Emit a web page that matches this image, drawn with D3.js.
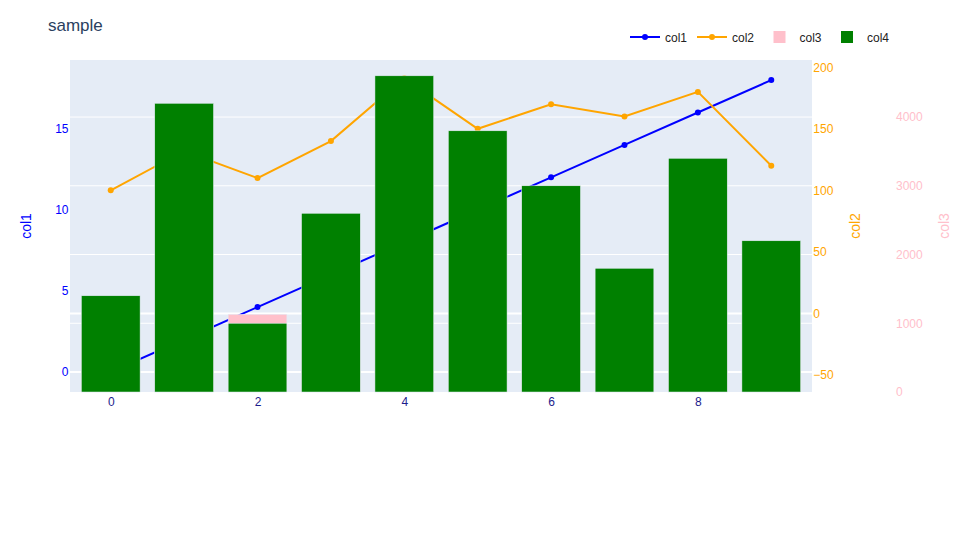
<!DOCTYPE html>
<html>
<head>
<meta charset="utf-8">
<script src="https://cdn.jsdelivr.net/npm/d3@7"></script>
<style>
    body { margin: 0; background: #fff; }
    svg { display: block; font-family: "Liberation Sans", Arial, sans-serif; }
</style>
</head>
<body>
<div id="chart"></div>
<script>
// values
const categories = [0, 1, 2, 3, 4, 5, 6, 7, 8, 9];
const col1 = [0, 2, 4, 6, 8, 10, 12, 14, 16, 18];
const col2 = [100, 132, 110, 140, 191, 150, 170, 160, 180, 120];
// col3 is mostly hidden behind col4, only x=2 shows
const col3 = [900, 1100, 1130, 1000, 1200, 1050, 950, 1150, 1000, 1100];
const col4 = [1400, 4200, 1000, 2600, 4600, 3800, 3000, 1800, 3400, 2200];

const xTicks = [0, 2, 4, 6, 8];
const col1Ticks = [0, 5, 10, 15];
const col2Ticks = [-50, 0, 50, 100, 150, 200];
const col3Ticks = [0, 1000, 2000, 3000, 4000];
const seriesNames = ['col1', 'col2', 'col3', 'col4'];

const CONFIG = {
    WIDTH: 960,
    HEIGHT: 540,
    PLOT: { left: 70, right: 812, top: 60, bottom: 392 },
    X_RANGE: [-0.555, 9.555],
    Y1_RANGE: [-1.24, 19.24],
    Y2_RANGE: [-63.8, 205.9],
    Y3_RANGE: [0, 4830],
    BAR_WIDTH: 0.8,
    COLOURS: {
        BG: '#e5ecf6',
        GRID: '#ffffff',
        COL1: 'blue',
        COL2: 'orange',
        COL3: 'pink',
        COL4: 'green',
        TITLE: '#2a3f5f',
        LEGEND: '#222',
        XTICK: '#1c1c8c'
    }
};

class Chart {
    constructor(parent) {
        this.ROOT = d3.select(parent).append('svg')
            .attr('width', CONFIG.WIDTH)
            .attr('height', CONFIG.HEIGHT)
            .attr('viewBox', [0, 0, CONFIG.WIDTH, CONFIG.HEIGHT]);
        this.createScales();
    }

    createScales() {
        const P = CONFIG.PLOT;
        this.x = d3.scaleLinear().domain(CONFIG.X_RANGE).range([P.left, P.right]);
        this.y1 = d3.scaleLinear().domain(CONFIG.Y1_RANGE).range([P.bottom, P.top]);
        this.y2 = d3.scaleLinear().domain(CONFIG.Y2_RANGE).range([P.bottom, P.top]);
        this.y3 = d3.scaleLinear().domain(CONFIG.Y3_RANGE).range([P.bottom, P.top]);
    }

    draw() {
        const P = CONFIG.PLOT;
        const C = CONFIG.COLOURS;

        this.ROOT.append('rect')
            .attr('x', P.left)
            .attr('y', P.top)
            .attr('width', P.right - P.left)
            .attr('height', P.bottom - P.top)
            .attr('fill', C.BG);

        // gridlines come from the col3 axis, plus zero lines of col1 / col2
        this.ROOT.append('g')
            .selectAll('line')
            .data(col3Ticks.filter(d => d > 0))
            .join('line')
            .attr('x1', P.left).attr('x2', P.right)
            .attr('y1', d => this.y3(d)).attr('y2', d => this.y3(d))
            .attr('stroke', C.GRID)
            .attr('stroke-width', 1);

        this.ROOT.append('g')
            .selectAll('line')
            .data([this.y1(0), this.y2(0)])
            .join('line')
            .attr('x1', P.left).attr('x2', P.right)
            .attr('y1', d => d).attr('y2', d => d)
            .attr('stroke', C.GRID)
            .attr('stroke-width', 2);

        this.drawLine(col1, this.y1, C.COL1);
        this.drawLine(col2, this.y2, C.COL2);
        this.drawBars(col3, C.COL3);
        this.drawBars(col4, C.COL4);

        this.drawAxes();
        this.drawLegend();

        this.ROOT.append('text')
            .attr('x', 48)
            .attr('y', 31)
            .attr('font-size', 17)
            .attr('fill', C.TITLE)
            .text('sample');
    }

    drawLine(values, yScale, colour) {
        const pts = categories.map((c, i) => [c, values[i]]);
        const g = this.ROOT.append('g');
        g.append('path')
            .datum(pts)
            .attr('fill', 'none')
            .attr('stroke', colour)
            .attr('stroke-width', 2)
            .attr('d', d3.line().x(d => this.x(d[0])).y(d => yScale(d[1])));
        g.selectAll('circle')
            .data(pts)
            .join('circle')
            .attr('cx', d => this.x(d[0]))
            .attr('cy', d => yScale(d[1]))
            .attr('r', 3)
            .attr('fill', colour);
    }

    drawBars(values, colour) {
        const half = CONFIG.BAR_WIDTH / 2;
        this.ROOT.append('g')
            .selectAll('rect')
            .data(categories.map((c, i) => [c, values[i]]))
            .join('rect')
            .attr('x', d => this.x(d[0] - half))
            .attr('width', d => this.x(d[0] + half) - this.x(d[0] - half))
            .attr('y', d => this.y3(d[1]))
            .attr('height', d => this.y3(0) - this.y3(d[1]))
            .attr('fill', colour)
            .attr('stroke', CONFIG.COLOURS.BG)
            .attr('stroke-width', 0.5);
    }

    styleAxis(g, colour) {
        g.select('.domain').remove();
        g.selectAll('.tick line').remove();
        g.selectAll('.tick text')
            .attr('font-size', 12)
            .attr('font-family', '"Liberation Sans", Arial, sans-serif')
            .attr('fill', colour);
    }

    axisTitle(label, x, colour) {
        const P = CONFIG.PLOT;
        this.ROOT.append('text')
            .attr('transform', 'translate(' + x + ',' + ((P.top + P.bottom) / 2) + ') rotate(-90)')
            .attr('text-anchor', 'middle')
            .attr('font-size', 14)
            .attr('fill', colour)
            .text(label);
    }

    drawAxes() {
        const P = CONFIG.PLOT;
        const C = CONFIG.COLOURS;

        this.ROOT.append('g')
            .attr('transform', 'translate(0,' + P.bottom + ')')
            .call(d3.axisBottom(this.x).tickValues(xTicks).tickSize(0).tickPadding(5.5).tickFormat(d3.format('d')))
            .call(g => this.styleAxis(g, C.XTICK));

        this.ROOT.append('g')
            .attr('transform', 'translate(' + P.left + ',0)')
            .call(d3.axisLeft(this.y1).tickValues(col1Ticks).tickSize(0).tickPadding(1.5).tickFormat(d3.format('d')))
            .call(g => this.styleAxis(g, C.COL1));

        this.ROOT.append('g')
            .attr('transform', 'translate(' + P.right + ',0)')
            .call(d3.axisRight(this.y2).tickValues(col2Ticks).tickSize(0).tickPadding(1.3).tickFormat(d3.format('d')))
            .call(g => this.styleAxis(g, C.COL2));

        this.ROOT.append('g')
            .attr('transform', 'translate(894,0)')
            .call(d3.axisRight(this.y3).tickValues(col3Ticks).tickSize(0).tickPadding(2).tickFormat(d3.format('d')))
            .call(g => this.styleAxis(g, C.COL3));

        this.axisTitle('col1', 31, C.COL1);
        this.axisTitle('col2', 860, C.COL2);
        this.axisTitle('col3', 949, C.COL3);
    }

    drawLegend() {
        const C = CONFIG.COLOURS;
        const items = [
            { name: seriesNames[0], kind: 'line', colour: C.COL1, x: 630 },
            { name: seriesNames[1], kind: 'line', colour: C.COL2, x: 697 },
            { name: seriesNames[2], kind: 'bar', colour: C.COL3, x: 773.5 },
            { name: seriesNames[3], kind: 'bar', colour: C.COL4, x: 841 }
        ];
        const LEGEND = this.ROOT.append('g')
            .selectAll('g')
            .data(items)
            .join('g')
            .attr('transform', d => 'translate(' + d.x + ',37)');

        LEGEND.filter(d => d.kind === 'line').each(function (d) {
            const g = d3.select(this);
            g.append('line')
                .attr('x1', 0).attr('x2', 30)
                .attr('stroke', d.colour)
                .attr('stroke-width', 2);
            g.append('circle')
                .attr('cx', 15)
                .attr('r', 3)
                .attr('fill', d.colour);
        });
        LEGEND.filter(d => d.kind === 'bar')
            .append('rect')
            .attr('x', 0).attr('y', -6)
            .attr('width', 12).attr('height', 12)
            .attr('fill', d => d.colour);

        LEGEND.append('text')
            .attr('x', d => d.kind === 'line' ? 35 : 26)
            .attr('y', 4.5)
            .attr('font-size', 12)
            .attr('fill', C.LEGEND)
            .text(d => d.name);
    }
}

const chart = new Chart(document.getElementById('chart'));
chart.draw();
</script>
</body>
</html>
